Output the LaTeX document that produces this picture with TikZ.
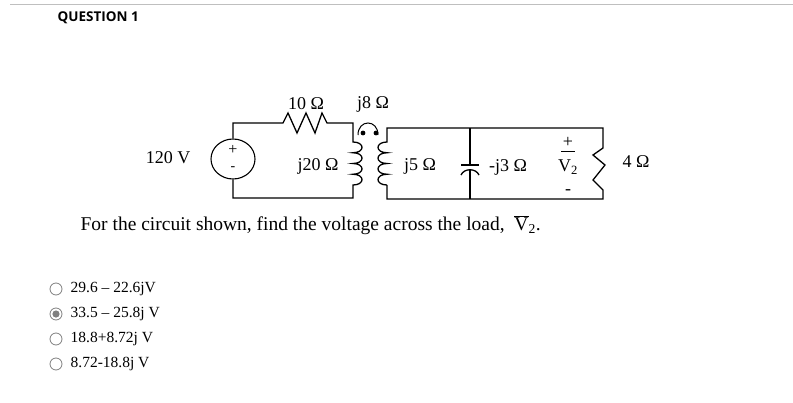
\documentclass[tikz,border=0pt]{standalone}
\usepackage{fontspec}
\setmainfont{Liberation Serif}
\newfontfamily\hdr{Open Sans}
\usetikzlibrary{shapes.geometric}
\begin{document}
\begin{tikzpicture}[x=1pt,y=-1pt,line width=1.3pt,
  lbl/.style={inner sep=0pt,font=\fontsize{18}{18}\selectfont},
  opt/.style={inner sep=0pt,anchor=west,font=\fontsize{15.5}{15.5}\selectfont}]
\useasboundingbox (0,0) rectangle (793,402);
\fill[white] (0,0) rectangle (793,402);
\draw[gray!50,line width=1pt] (10,4) -- (793,4);
\node[anchor=west,inner sep=0pt,font=\hdr\bfseries\fontsize{13.5}{13.5}\selectfont] (q) at (57,18) {QUESTION 1};
% source
\node[draw,ellipse,minimum width=44pt,minimum height=40pt,inner sep=0pt,line width=1.1pt] (src) at (233,159) {};
\node[inner sep=0pt,font=\fontsize{16}{16}\selectfont] (sp) at (233,150) {+};
\node[inner sep=0pt,font=\fontsize{14}{14}\selectfont] (sm) at (233,169) {-};
\coordinate (tl) at (233,123); \coordinate (bl) at (233,198);
\coordinate (r1a) at (283,123); \coordinate (r1b) at (327,123);
\coordinate (p1) at (353,123); \coordinate (p2) at (353,142);
\coordinate (p3) at (353,185); \coordinate (p4) at (353,198);
\draw (src.north) -- (tl) -- (r1a) -- (288,113) -- (297,133) -- (306,113) -- (315,133) -- (322,113) -- (r1b) -- (p1) -- (p2)
  .. controls (365,142) and (365,152.75) .. (353,152.75)
  .. controls (365,152.75) and (365,163.5) .. (353,163.5)
  .. controls (365,163.5) and (365,174.25) .. (353,174.25)
  .. controls (365,174.25) and (365,185) .. (p3) -- (p4) -- (bl) -- (src.south);
% secondary
\coordinate (s1) at (387,128); \coordinate (s2) at (387,142);
\coordinate (s3) at (387,185); \coordinate (s4) at (387,199);
\coordinate (c1) at (470,128); \coordinate (c2) at (470,199);
\coordinate (rt) at (603,128); \coordinate (rb) at (603,199);
\draw (s3)
  .. controls (375,185) and (375,174.25) .. (387,174.25)
  .. controls (375,174.25) and (375,163.5) .. (387,163.5)
  .. controls (375,163.5) and (375,152.75) .. (387,152.75)
  .. controls (375,152.75) and (375,142) .. (s2)
  -- (s1) -- (c1) -- (rt) -- (603,148) -- (593,155) -- (605,165) -- (593,180) -- (603,190) -- (rb) -- (c2) -- (s4) -- (s3);
\draw (c1) -- (470,165); \draw (c2) -- (470,170);
\draw (461,165) -- (479,165);
\draw (461,175) .. controls (464,168) and (476,168) .. (479,175);
% mutual
\draw[line width=1pt] (358,135) .. controls (358,119) and (378,119) .. (378,135);
\fill (363,133) circle (2.4pt); \fill (376,133) circle (2.4pt);
% labels
\node[lbl] (l120) at (168,158) {120 V};
\node[lbl] (l10) at (306,104) {10 Ω};
\node[lbl] (l8) at (373,104) {j8 Ω};
\node[lbl] (l20) at (318,166) {j20 Ω};
\node[lbl] (l5) at (420,166) {j5 Ω};
\node[lbl] (l3) at (508,167) {-j3 Ω};
\node[lbl] (l4) at (636,162) {4 Ω};
\node[lbl] (vp) at (568,142) {+};
\draw[line width=0.8pt] (561,151) -- (575,151);
\node[lbl] (v2) at (568,167) {V\textsubscript{2}};
\node[lbl] (vm) at (568,192) {-};
\node[anchor=base west,inner sep=0pt,font=\fontsize{19.5}{19.5}\selectfont] (qt) at (80,230) {For the circuit shown, find the voltage across the load, \ $\overline{\mbox{V}}$\textsubscript{2}.};
\foreach \yy in {289,314,339,364} \draw[gray,line width=0.8pt] (56,\yy) circle (6pt);
\node[opt] (oa) at (70,289) {29.6 – 22.6jV};
\node[opt] (ob) at (70,314) {33.5 – 25.8j V};
\node[opt] (oc) at (70,339) {18.8+8.72j V};
\node[opt] (od) at (70,364) {8.72-18.8j V};
\fill[gray] (56,314) circle (3.6pt);
\end{tikzpicture}
\end{document}
